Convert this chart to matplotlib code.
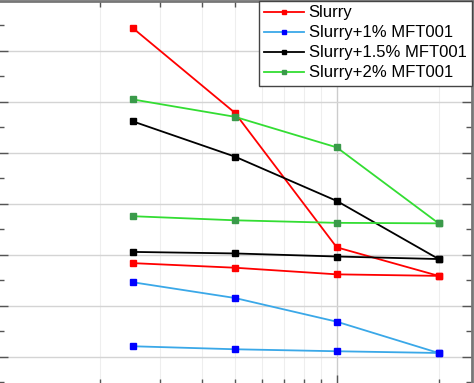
import matplotlib
matplotlib.use("Agg")
import matplotlib.pyplot as plt
from matplotlib.ticker import MultipleLocator, LogLocator, NullFormatter

plt.rcParams['font.family'] = ['Liberation Sans', 'DejaVu Sans']

x = [2.5, 5, 10, 20]

# upper and lower curve for each mix (same end point at x=20)
slurry_hi = [6.45, 4.79, 2.15, 1.59]
slurry_lo = [1.84, 1.75, 1.62, 1.59]
mft1_hi = [1.465, 1.157, 0.692, 0.078]
mft1_lo = [0.21, 0.151, 0.112, 0.078]
mft15_hi = [4.62, 3.93, 3.06, 1.92]
mft15_lo = [2.06, 2.03, 1.97, 1.92]
mft2_hi = [5.05, 4.71, 4.11, 2.62]
mft2_lo = [2.76, 2.68, 2.63, 2.62]

labels = ['Slurry', 'Slurry+1% MFT001', 'Slurry+1.5% MFT001', 'Slurry+2% MFT001']
line_colors = ['#ff0000', '#3aa8e8', '#000000', '#33dd33']
marker_colors = ['#ff0000', '#0000ff', '#000000', '#3a9a4a']
series = [(slurry_hi, slurry_lo), (mft1_hi, mft1_lo),
          (mft15_hi, mft15_lo), (mft2_hi, mft2_lo)]

fig = plt.figure(figsize=(4.74, 3.83), dpi=100)
ax = fig.add_axes([-2 / 474, -1.5 / 383, 473.5 / 474, 384 / 383])

for (hi, lo), lab, lc, mc in zip(series, labels, line_colors, marker_colors):
    ax.plot(x, hi, color=lc, lw=1.3, marker='s', ms=4, mfc=mc, mec=mc, label=lab)
    ax.plot(x, lo, color=lc, lw=1.3, marker='s', ms=4, mfc=mc, mec=mc)

ax.set_xscale('log')
ax.set_xlim(1, 25)
ax.set_ylim(-0.54, 6.99)
ax.yaxis.set_major_locator(MultipleLocator(1))
ax.yaxis.set_minor_locator(MultipleLocator(0.5))
ax.xaxis.set_major_locator(LogLocator(base=10))
ax.xaxis.set_minor_locator(LogLocator(base=10, subs=range(2, 10)))
ax.xaxis.set_minor_formatter(NullFormatter())

ax.grid(True, which='major', axis='y', color='#d4d4d4', lw=1)
ax.grid(True, which='major', axis='x', color='#cccccc', lw=1)
ax.grid(True, which='minor', axis='x', color='#eeeeee', lw=0.8)
ax.set_axisbelow(True)

ax.tick_params(which='both', direction='in', top=True, right=True,
               labelbottom=False, labelleft=False, colors='#555555')
ax.tick_params(which='major', length=7, width=1)
ax.tick_params(which='minor', length=4, width=1)
for s in ax.spines.values():
    s.set_color('#777777')
    s.set_linewidth(2)

leg = ax.legend(loc='upper right', fontsize=12, frameon=True, fancybox=False,
                framealpha=1, edgecolor='#444444', borderaxespad=0,
                handlelength=2.4, handletextpad=0.3, labelspacing=0.3,
                borderpad=0.3, markerscale=0.6)
leg.get_frame().set_linewidth(1)

fig.savefig('out.png', dpi=100)
